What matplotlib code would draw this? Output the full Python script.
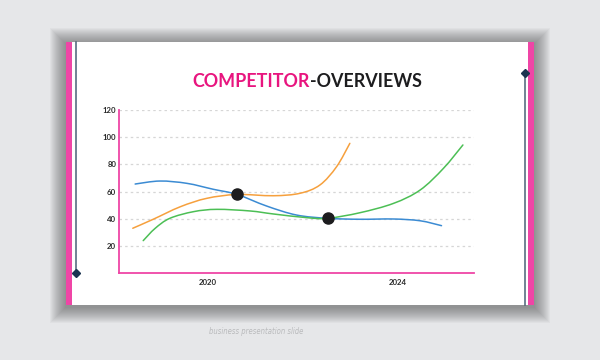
import matplotlib
matplotlib.use("Agg")
import matplotlib.pyplot as plt
from matplotlib.patches import Rectangle, PathPatch
from matplotlib.path import Path

# ---- data ----
blue_x = [2018.48, 2019.00, 2019.57, 2020.13, 2020.62, 2021.25, 2021.88, 2022.53, 2023.21, 2023.92, 2024.48, 2024.93]
blue_y = [65.6, 67.8, 66.1, 61.7, 58.0, 49.4, 42.8, 40.4, 39.7, 39.9, 38.6, 35.0]

orange_x = [2018.43, 2018.86, 2019.43, 2019.99, 2020.62, 2021.39, 2021.95, 2022.37, 2022.72, 2023.00]
orange_y = [33.1, 39.7, 48.9, 55.1, 57.9, 57.0, 58.8, 64.9, 78.3, 95.5]

green_x = [2018.65, 2018.90, 2019.21, 2019.71, 2020.20, 2020.90, 2021.39, 2022.09, 2022.53, 2023.21, 2023.92, 2024.48, 2024.97, 2025.38]
green_y = [24.0, 33.0, 40.4, 45.3, 47.0, 45.8, 43.6, 40.9, 40.4, 44.5, 51.4, 61.2, 77.1, 94.3]

cross_x = [2020.62, 2022.53]
cross_y = [58.0, 40.4]

y_ticks = [20, 40, 60, 80, 100, 120]
x_ticks = [2020, 2024]

title_a = "COMPETITOR"
title_b = "-OVERVIEWS"
caption = "business presentation slide"

PINK = "#ef45a6"
NAVY = "#1b3450"


def smooth_line(ax, xs, ys, color):
    # catmull-rom style bezier through the read points
    n = len(xs)
    verts = [(xs[0], ys[0])]
    codes = [Path.MOVETO]
    for i in range(n - 1):
        x0, y0 = (xs[i - 1], ys[i - 1]) if i > 0 else (xs[i], ys[i])
        x3, y3 = (xs[i + 2], ys[i + 2]) if i + 2 < n else (xs[i + 1], ys[i + 1])
        c1 = (xs[i] + (xs[i + 1] - x0) / 6, ys[i] + (ys[i + 1] - y0) / 6)
        c2 = (xs[i + 1] - (x3 - xs[i]) / 6, ys[i + 1] - (y3 - ys[i]) / 6)
        verts += [c1, c2, (xs[i + 1], ys[i + 1])]
        codes += [Path.CURVE4] * 3
    ax.add_patch(PathPatch(Path(verts, codes), facecolor="none", edgecolor=color,
                           lw=1.1, capstyle="round"))


fig = plt.figure(figsize=(6, 3.6), dpi=100)
fig.patch.set_facecolor("#e6e7e9")

# decoration layer in pixel coords
bg = fig.add_axes([0, 0, 1, 1])
bg.set_xlim(0, 600)
bg.set_ylim(360, 0)
bg.axis("off")

cx0, cy0, cx1, cy1 = 66, 42, 534, 305
for d in range(16, 0, -1):
    bg.add_patch(Rectangle((cx0 - d, cy0 - d + 2), cx1 - cx0 + 2 * d, cy1 - cy0 + 2 * d,
                           facecolor="#4a4a4a", alpha=0.045, lw=0))
bg.add_patch(Rectangle((cx0, cy0), cx1 - cx0, cy1 - cy0, facecolor="white", lw=0))
bg.add_patch(Rectangle((66, cy0), 5.7, cy1 - cy0, facecolor=PINK, lw=0))
bg.add_patch(Rectangle((528.3, cy0), 5.7, cy1 - cy0, facecolor=PINK, lw=0))

bg.plot([75.5, 75.5], [cy0, 273], color="#4a6177", lw=1.1)
bg.plot([75.5], [273], marker="D", color=NAVY, ms=4.5)
bg.plot([525, 525], [73, cy1], color="#4a6177", lw=1.1)
bg.plot([525], [73], marker="D", color=NAVY, ms=4.5)

# title, fitted to the reference width
ta = bg.text(310, 86.7, title_a, color="#e8157f", fontsize=13, fontfamily="Lato",
             fontweight="bold", ha="right", va="baseline")
tb = bg.text(310, 86.7, title_b, color="#1d1d1f", fontsize=13, fontfamily="Lato",
             fontweight="bold", ha="left", va="baseline")
r = fig.canvas.get_renderer()
w = ta.get_window_extent(r).width + tb.get_window_extent(r).width
fs = 13 * 229 / w
ta.set_fontsize(fs)
tb.set_fontsize(fs)

cap = bg.text(256, 332, caption, color="#b9babc", fontsize=7,
              fontfamily=["Liberation Sans Narrow", "DejaVu Sans"], style="italic",
              ha="center", va="center", fontstretch="condensed")
cw = cap.get_window_extent(r).width
cap.set_fontsize(7 * 95 / cw)

# chart
ax = fig.add_axes([119 / 600, 1 - 273.3 / 360, (474.3 - 119) / 600, (273.3 - 110) / 360])
ax.set_facecolor("none")
ax.set_xlim(2018.14, 2025.62)
ax.set_ylim(0, 120)

for yv in y_ticks:
    ax.axhline(yv, color="#d6d6d6", lw=0.9, ls=(0, (2, 2.5)), zorder=0)

smooth_line(ax, blue_x, blue_y, "#3b8bd3")
smooth_line(ax, orange_x, orange_y, "#f6a03d")
smooth_line(ax, green_x, green_y, "#4cbf55")
ax.plot(cross_x, cross_y, "o", color="#1c1c1e", ms=8, zorder=5)

for s in ["top", "right"]:
    ax.spines[s].set_visible(False)
for s in ["left", "bottom"]:
    ax.spines[s].set_color(PINK)
    ax.spines[s].set_linewidth(1.3)

ax.set_yticks(y_ticks)
ax.set_yticklabels([str(v) for v in y_ticks])
ax.set_xticks(x_ticks)
ax.set_xticklabels([str(v) for v in x_ticks])
ax.tick_params(length=0, colors="#2a2a2a", labelsize=5.6)
ax.tick_params(axis="y", pad=2)
ax.tick_params(axis="x", pad=4)
for lab in ax.get_xticklabels() + ax.get_yticklabels():
    lab.set_fontfamily("Lato")
    lab.set_fontweight("bold")

fig.savefig("out.png", dpi=100, facecolor=fig.get_facecolor())
